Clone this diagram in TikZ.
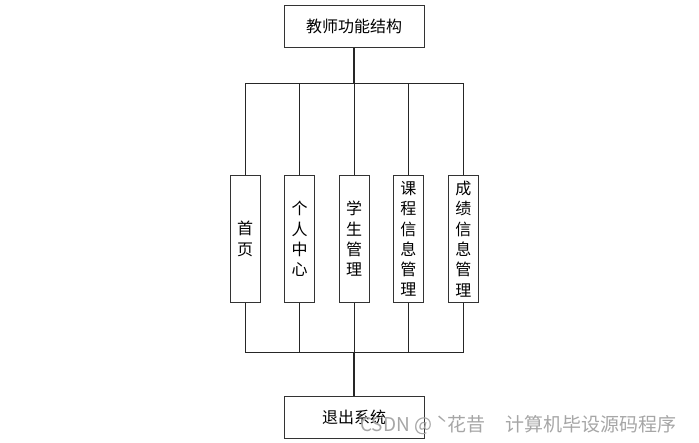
\documentclass[tikz,border=0pt]{standalone}
\usepackage{fontspec}
\newfontfamily\cjk{Noto Sans CJK SC}
\begin{document}
\begin{tikzpicture}[x=1pt,y=-1pt,
  box/.style={draw=black!80, line width=0.9pt, fill=white, inner sep=0pt, font=\cjk\fontsize{16}{20.3}\selectfont, text=black},
  hbox/.style={box, minimum width=140pt, minimum height=42pt},
  vbox/.style={box, minimum width=30pt, minimum height=127pt, align=center},
  conn/.style={draw=black!85, line width=0.8pt}]
\useasboundingbox (0,0) rectangle (699,443);
\node[hbox] (top) at (354,26.5) {教师功能结构};
\node[vbox] (b1) at (245,239) {首\\页};
\node[vbox] (b2) at (299.5,239) {个\\人\\中\\心};
\node[vbox] (b3) at (354,239) {学\\生\\管\\理};
\node[vbox] (b4) at (408.3,239) {课\\程\\信\\息\\管\\理};
\node[vbox] (b5) at (463.3,239) {成\\绩\\信\\息\\管\\理};
\node[hbox] (bot) at (354,417) {退出系统};
\coordinate (tj) at (354,83);
\coordinate (bj) at (354,352.7);
\draw[conn, line width=1.6pt] (top) -- (tj);
\draw[conn] (b1.north) |- (tj) (b2.north) |- (tj) (b3.north) -- (tj) (b4.north) |- (tj) (b5.north) |- (tj);
\draw[conn] (b1.south) |- (bj) (b2.south) |- (bj) (b3.south) -- (bj) (b4.south) |- (bj) (b5.south) |- (bj);
\draw[conn, line width=1.4pt] (bj) -- (bot);
\node[font=\cjk\fontsize{19}{20}\selectfont, text=black!35, anchor=west, inner sep=0pt] (wm) at (360,425) {CSDN @ ˋ花昔\hspace{20pt}计算机毕设源码程序};
\end{tikzpicture}
\end{document}
